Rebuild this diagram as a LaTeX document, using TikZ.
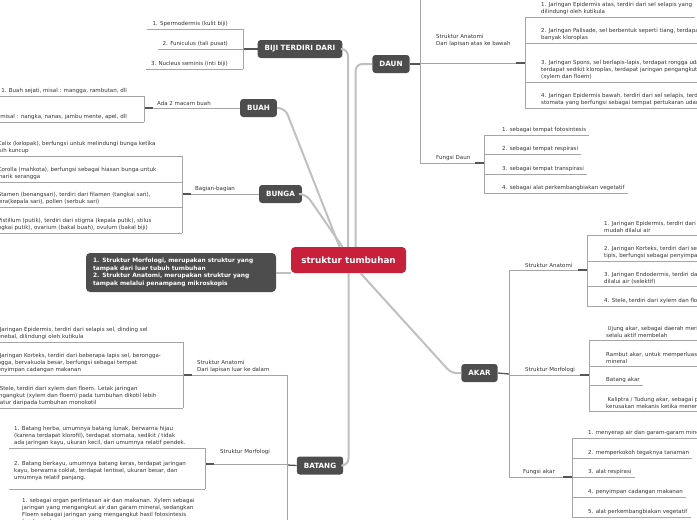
\documentclass[tikz,border=0pt]{standalone}
\usepackage{fontspec}
\setmainfont{DejaVu Sans}
\usepackage{xcolor}
\usetikzlibrary{positioning,calc}
\definecolor{topicgray}{RGB}{77,77,77}
\definecolor{rootred}{RGB}{200,32,58}
\definecolor{txtgray}{RGB}{51,51,51}
\definecolor{mainln}{RGB}{192,192,192}
\definecolor{subln}{RGB}{165,165,165}
\definecolor{jnln}{RGB}{85,85,85}

\begin{document}
\begin{tikzpicture}[
  x=1pt, y=-1pt,
  every node/.style={text=txtgray},
  topic/.style = {fill=topicgray, rounded corners=3pt, text=white,
                  font=\fontsize{7.2}{8}\selectfont\bfseries,
                  inner xsep=7pt, inner ysep=0pt, minimum height=18pt},
  root/.style  = {fill=rootred, rounded corners=4pt, text=white,
                  font=\fontsize{8.8}{10}\selectfont\bfseries,
                  minimum width=115pt, minimum height=26pt},
  note/.style  = {fill=topicgray, rounded corners=4pt, text=white,
                  font=\fontsize{5.9}{7.6}\selectfont\bfseries,
                  text width=176pt, align=left, inner xsep=7pt, minimum height=39pt},
  leaf/.style  = {font=\fontsize{5.5}{7}\selectfont, align=left, inner xsep=3pt, inner ysep=2pt},
  lr/.style    = {leaf, anchor=south west},
  ll/.style    = {leaf, anchor=south east},
  lbl/.style   = {leaf, anchor=south west},
  main/.style  = {draw=mainln, line width=2pt, rounded corners=7pt},
  sub/.style   = {draw=subln, line width=0.7pt},
  jn/.style    = {draw=jnln, line width=1.3pt}
]
\useasboundingbox (0,0) rectangle (697,520);
\clip (0,0) rectangle (697,520);

%% ===== main topics =====
\node[root] (ctr) at (348.5,260) {struktur tumbuhan};
\node[topic] (biji) at (300,49) {BIJI TERDIRI DARI};
\node[topic] (daun) at (391,64) {DAUN};
\node[topic] (buah) at (258.5,108) {BUAH};
\node[topic] (bunga) at (280.5,194) {BUNGA};
\node[topic] (batang) at (320,465.5) {BATANG};
\node[topic] (akar) at (479.5,373) {AKAR};
\node[note] (desc) at (181,272.5)
  {1. Struktur Morfologi, merupakan struktur yang\\
   tampak dari luar tubuh tumbuhan\\
   2. Struktur Anatomi, merupakan struktur yang\\
   tampak melalui penampang mikroskopis};

\draw[main] (biji.east) -| ([xshift=-0.5pt]ctr.north);
\draw[main] ([xshift=7pt]ctr.north) |- (daun.west);
\draw[main] (buah.east) -- (285,108) -- ([xshift=-9pt]ctr.north);
\draw[main] (bunga.east) -- (306,194) -- ([xshift=-6pt]ctr.north);
\draw[main] (desc.east) -- (desc.east -| ctr.west);
\draw[main] (ctr.south) |- (batang.east);
\draw[main] ([xshift=12pt]ctr.south) -- (452,374) -- (akar.west);

%% ===== BIJI =====
\coordinate (kb) at (243,49);
\node[ll] (b1) at (231,29) {1. Spermodermis (kulit biji)};
\node[ll] (b2) at (231,49) {2. Funiculus (tali pusat)};
\node[ll] (b3) at (231,69) {3. Nucleus seminis (inti biji)};
\draw[jn] (biji.west) -- (kb);
\draw[sub] (kb |- b1.south) -- (kb |- b3.south);
\foreach \n in {b1,b2,b3} \draw[sub] ([xshift=-2pt]\n.south west) -- (kb |- \n.south);

%% ===== BUAH =====
\coordinate (kbu) at (144,108);
\node[lbl] (buahlb) at (154,108) {Ada 2 macam buah};
\node[ll] (u1) at (130,96) {1. Buah sejati, misal : mangga, rambutan, dll};
\node[ll] (u2) at (130,122) {2. Buah semu, misal : nangka, nanas, jambu mente, apel, dll};
\draw[sub] (buah.west) -- (kbu);
\draw[jn] (kbu) -- ([xshift=9pt]kbu);
\draw[sub] (kbu |- u1.south) -- (kbu |- u2.south);
\foreach \n in {u1,u2} \draw[sub] (\n.south west) -- (kbu |- \n.south);

%% ===== BUNGA =====
\coordinate (kbg) at (182,194);
\node[lbl] (bungalb) at (192,194) {Bagian-bagian};
\node[lr] (n1) at (-13,156)
  {1. Calix (kelopak), berfungsi untuk melindungi bunga ketika\\masih kuncup};
\node[lr] (n2) at (-13,182)
  {2. Corolla (mahkota), berfungsi sebagai hiasan bunga untuk\\menarik serangga};
\node[lr] (n3) at (-13,207)
  {3. Stamen (benangsari), terdiri dari filamen (tangkai sari),\\antera(kepala sari), pollen (serbuk sari)};
\node[lr] (n4) at (-13,233)
  {4. Pistillum (putik), terdiri dari stigma (kepala putik), stilus\\(tangkai putik), ovarium (bakal buah), ovulum (bakal biji)};
\draw[sub] (bunga.west) -- (kbg);
\draw[jn] (kbg) -- ([xshift=9pt]kbg);
\draw[sub] (kbg |- n1.south) -- (kbg |- n4.south);
\foreach \n in {n1,n2,n3,n4} \draw[sub] (\n.south west) -- (kbg |- \n.south);

%% ===== DAUN =====
\coordinate (kdaun) at (420,64);
\coordinate (dtop) at (420,-5);
\coordinate (kda) at (525,63);
\coordinate (kdf) at (484,163);
\node[lbl] (daunat) at (433,48.5) {Struktur Anatomi\\Dari lapisan atas ke bawah};
\node[lbl] (daunfg) at (433,163) {Fungsi Daun};
\node[lr] (da1) at (538,17)
  {1. Jaringan Epidermis atas, terdiri dari sel selapis yang\\dilindungi oleh kutikula};
\node[lr] (da2) at (538,43)
  {2. Jaringan Palisade, sel berbentuk seperti tiang, terdapat\\banyak kloroplas};
\node[lr] (da3) at (538,82)
  {3. Jaringan Spons, sel berlapis-lapis, terdapat rongga udara,\\terdapat sedikit kloroplas, terdapat jaringan pengangkut\\(xylem dan floem)};
\node[lr] (da4) at (538,108)
  {4. Jaringan Epidermis bawah, terdiri dari sel selapis, terdapat\\stomata yang berfungsi sebagai tempat pertukaran udara};
\node[lr] (df1) at (499,135) {1. sebagai tempat fotosintesis};
\node[lr] (df2) at (499,154) {2. sebagai tempat respirasi};
\node[lr] (df3) at (499,174) {3. sebagai tempat transpirasi};
\node[lr] (df4) at (499,193) {4. sebagai alat perkembangbiakan vegetatif};
\draw[jn] (daun.east) -- (kdaun);
\draw[sub] (dtop) -- (kdaun |- kdf) -- (kdf);
\draw[sub] (kdaun |- kda) -- (kda);
\draw[jn] ([xshift=-9pt]kda) -- (kda);
\draw[jn] ([xshift=-9pt]kdf) -- (kdf);
\draw[sub] (kda |- da1.south) -- (kda |- da4.south);
\foreach \n in {da1,da2,da3,da4} \draw[sub] (kda |- \n.south) -- (\n.south east);
\draw[sub] (kdf |- df1.south) -- (kdf |- df4.south);
\foreach \n in {df1,df2,df3,df4} \draw[sub] (kdf |- \n.south) -- (\n.south east);

%% ===== BATANG =====
\coordinate (kbt) at (287,465);
\coordinate (kbtb) at (287,530);
\coordinate (kta) at (183,375);
\coordinate (ktm) at (205,464);
\node[lbl] (batangat) at (194,375) {Struktur Anatomi\\Dari lapisan luar ke dalam};
\node[lbl] (batangmf) at (217,457) {Struktur Morfologi};
\node[lr] (t1) at (-11,342)
  {1. Jaringan Epidermis, terdiri dari selapis sel, dinding sel\\menebal, dilindungi oleh kutikula};
\node[lr] (t2) at (-11,375)
  {2. Jaringan Korteks, terdiri dari beberapa lapis sel, berongga-\\rongga, bervakuola besar, berfungsi sebagai tempat\\menyimpan cadangan makanan};
\node[lr] (t3) at (-11,408)
  {3. Stele, terdiri dari xylem dan floem. Letak jaringan\\pengangkut (xylem dan floem) pada tumbuhan dikotil lebih\\teratur daripada tumbuhan monokotil};
\node[lr] (m1) at (11,448)
  {1. Batang herba, umumnya batang lunak, berwarna hijau\\(karena terdapat klorofil), terdapat stomata, sedikit / tidak\\ada jaringan kayu, ukuran kecil, dan umumnya relatif pendek.};
\node[lr] (m2) at (11,489)
  {2. Batang berkayu, umumnya batang keras, terdapat jaringan\\kayu, berwarna coklat, terdapat lentisel, ukuran besar, dan\\umumnya relatif panjang.\\\mbox{}};
\node[leaf, anchor=north west] (f1) at (19,496.5)
  {1. sebagai organ perlintasan air dan makanan. Xylem sebagai\\jaringan yang mengangkut air dan garam mineral, sedangkan\\Floem sebagai jaringan yang mengangkut hasil fotosintesis\\(makanan)};
\draw[jn] (batang.west) -- (kbt);
\draw[sub] (kbt |- kta) -- (kbtb);
\draw[sub] (kta) -- (kbt |- kta);
\draw[jn] (kta) -- ([xshift=9pt]kta);
\draw[sub] (ktm) -- (kbt |- ktm);
\draw[jn] (ktm) -- ([xshift=9pt]ktm);
\draw[sub] (kta |- t1.south) -- (kta |- t3.south);
\foreach \n in {t1,t2,t3} \draw[sub] (\n.south west) -- (kta |- \n.south);
\draw[sub] (ktm |- m1.south) -- (ktm |- m2.south);
\foreach \n in {m1,m2} \draw[sub] ([xshift=-2pt]\n.south west) -- (ktm |- \n.south);

%% ===== AKAR =====
\coordinate (kak) at (509,374);
\coordinate (kaa) at (587,270);
\coordinate (kam) at (589,375);
\coordinate (kaf) at (572,477);
\node[lbl] (akarat) at (522,270) {Struktur Anatomi};
\node[lbl] (akarmf) at (522,375) {Struktur Morfologi};
\node[lbl] (akarfg) at (520,477) {Fungsi akar};
\node[lr] (aa1) at (601,235)
  {1. Jaringan Epidermis, terdiri dari selapis sel, dinding tipis,\\mudah dilalui air};
\node[lr] (aa2) at (601,261)
  {2. Jaringan Korteks, terdiri dari sel berdinding\\tipis, berfungsi sebagai penyimpan cadangan makanan};
\node[lr] (aa3) at (601,286)
  {3. Jaringan Endodermis, terdiri dari selapis sel, sukar\\dilalui air (selektif)};
\node[lr] (aa4) at (601,306) {4. Stele, terdiri dari xylem dan floem};
\node[lr] (am1) at (603,340)
  {\hspace{1.5pt}Ujung akar, sebagai daerah meristem yang\\selalu aktif membelah};
\node[lr] (am2) at (603,366)
  {Rambut akar, untuk memperluas bidang penyerapan air dan\\mineral};
\node[lr] (am3) at (603,385) {Batang akar};
\node[lr] (am4) at (603,411)
  {\hspace{1.5pt}Kaliptra / Tudung akar, sebagai pelindung ujung akar dari\\kerusakan mekanis ketika menembus tanah};
\node[lr] (af1) at (585,438) {1. menyerap air dan garam-garam mineral};
\node[lr] (af2) at (585,458) {2. memperkokoh tegaknya tanaman};
\node[lr] (af3) at (585,477) {3. alat respirasi};
\node[lr] (af4) at (585,497) {4. penyimpan cadangan makanan};
\node[lr] (af5) at (585,517) {5. alat perkembangbiakan vegetatif};
\draw[jn] (akar.east) -- (kak);
\draw[sub] (kak |- kaa) -- (kak |- kaf);
\draw[sub] (kak |- kaa) -- (kaa);
\draw[sub] (kak |- kam) -- (kam);
\draw[sub] (kak |- kaf) -- (kaf);
\draw[jn] ([xshift=-9pt]kaa) -- (kaa);
\draw[jn] ([xshift=-9pt]kam) -- (kam);
\draw[jn] ([xshift=-9pt]kaf) -- (kaf);
\draw[sub] (kaa |- aa1.south) -- (kaa |- aa4.south);
\foreach \n in {aa1,aa2,aa3,aa4} \draw[sub] (kaa |- \n.south) -- (\n.south east);
\draw[sub] (kam |- am1.south) -- (kam |- am4.south);
\foreach \n in {am1,am2,am3,am4} \draw[sub] (kam |- \n.south) -- (\n.south east);
\draw[sub] (kaf |- af1.south) -- (kaf |- af5.south);
\foreach \n in {af1,af2,af3,af4,af5} \draw[sub] (kaf |- \n.south) -- (\n.south east);

\end{tikzpicture}
\end{document}
